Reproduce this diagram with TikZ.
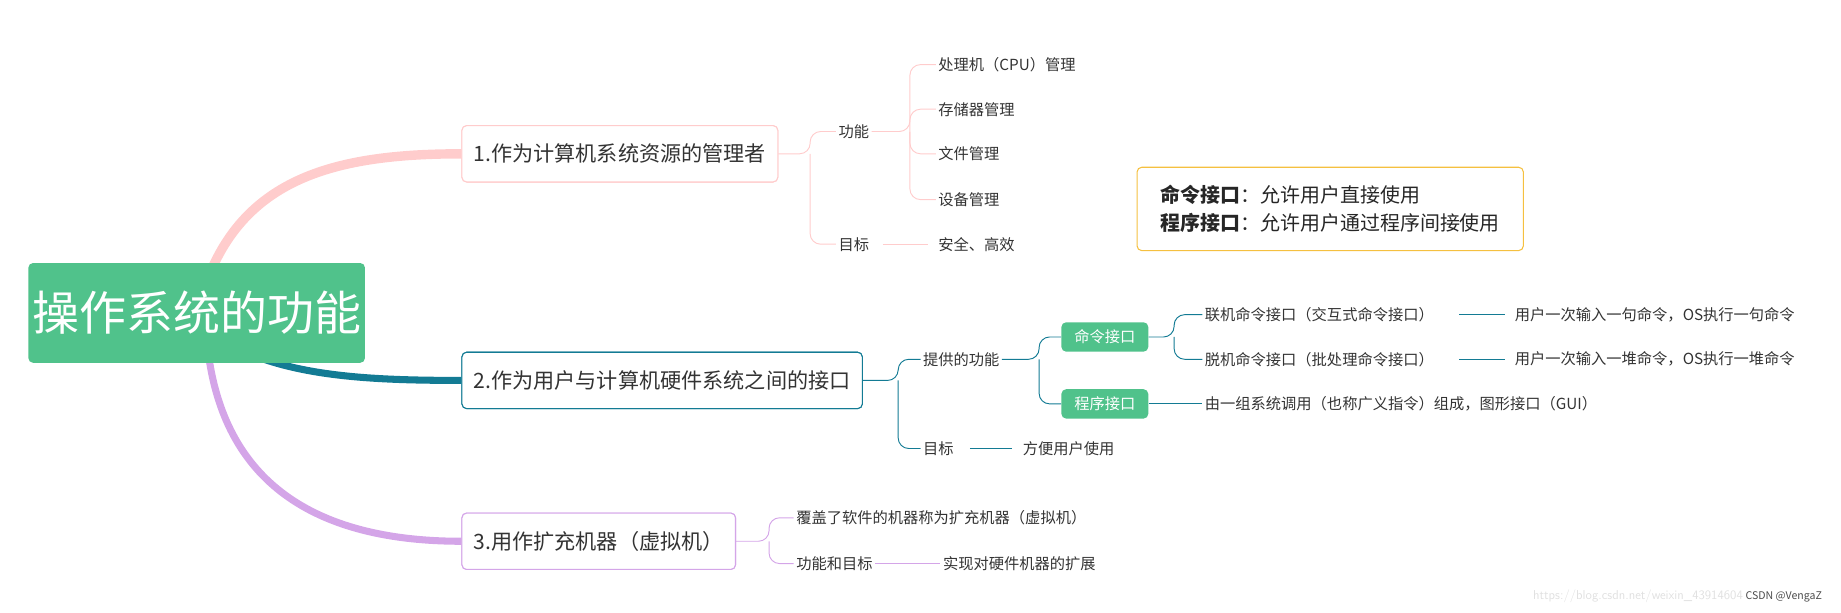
\documentclass[tikz,border=0pt]{standalone}
\usepackage{fontspec}
\setmainfont{Noto Sans CJK SC}
\begin{document}
\begin{tikzpicture}[x=1pt,y=-1pt,
  tx/.style={anchor=west,inner sep=2pt,text=black!80,font=\fontsize{13}{15}\selectfont},
  mainbox/.style={draw,rounded corners=4pt,line width=0.9pt,minimum height=48pt,inner xsep=10pt,font=\fontsize{18}{20}\selectfont,text=black!80,fill=white},
  gbox/.style={fill=gr,rounded corners=4pt,text=white,minimum width=74pt,minimum height=25pt,inner sep=2pt,font=\fontsize{13}{15}\selectfont},
  br/.style={rounded corners=9pt,line width=0.8pt}]
\definecolor{gr}{HTML}{50C28B}
\definecolor{pk}{HTML}{FFCCCC}
\definecolor{tl}{HTML}{137B94}
\definecolor{lc}{HTML}{D4A5E8}
\definecolor{og}{HTML}{F5C040}
\useasboundingbox (0,0) rectangle (1568,522);
% main branches
\coordinate (r1) at (180,230);
\coordinate (r2) at (222,305);
\coordinate (r3) at (178,305);
\node[mainbox,draw=pk,anchor=west] (n1) at (393,131) {1.作为计算机系统资源的管理者};
\node[mainbox,draw=tl,anchor=west] (n2) at (393,324) {2.作为用户与计算机硬件系统之间的接口};
\node[mainbox,draw=lc,anchor=west] (n3) at (393,461) {3.用作扩充机器（虚拟机）};
\draw[pk,line width=8pt] (r1) .. controls (215,150) and (290,131) .. (n1.west);
\draw[tl,line width=6pt] (r2) .. controls (270,322) and (330,324) .. (n2.west);
\draw[lc,line width=6pt] (r3) .. controls (195,420) and (280,461) .. (n3.west);
\node[fill=gr,rounded corners=4pt,text=white,minimum width=279pt,minimum height=85pt,font=\fontsize{40}{42}\selectfont] (root) at (167.5,266.5) {操作系统的功能};
\node[mainbox,draw=pk,anchor=west] at (393,131) {1.作为计算机系统资源的管理者};
\node[mainbox,draw=tl,anchor=west] at (393,324) {2.作为用户与计算机硬件系统之间的接口};
\node[mainbox,draw=lc,anchor=west] at (393,461) {3.用作扩充机器（虚拟机）};
% branch 1
\node[tx] (f1) at (712,112) {功能};
\node[tx] (g1) at (712,208) {目标};
\draw[br,pk] (n1.east) -- (690,131) -- (690,112) -- (f1.west);
\draw[br,pk] (690,131) -- (690,208) -- (g1.west);
\node[tx] (c1) at (797,55) {处理机（CPU）管理};
\node[tx] (c2) at (797,93) {存储器管理};
\node[tx] (c3) at (797,131) {文件管理};
\node[tx] (c4) at (797,170) {设备管理};
\draw[br,pk] (f1.east) -- (775,112) -- (775,55) -- (c1.west);
\draw[br,pk] (775,112) -- (775,93) -- (c2.west);
\draw[br,pk] (775,112) -- (775,131) -- (c3.west);
\draw[br,pk] (775,112) -- (775,170) -- (c4.west);
\node[tx] (s1) at (797,208) {安全、高效};
\draw[pk,line width=0.8pt] (752,208) -- (790,208);
% callout
\node[draw=og,line width=0.9pt,rounded corners=4pt,anchor=north west,minimum width=329pt,minimum height=71pt,align=left,inner xsep=10pt,text=black!85,font=\fontsize{17}{24}\selectfont] (call) at (968,142) {\textbf{命令接口}：允许用户直接使用\\\textbf{程序接口}：允许用户通过程序间接使用};
% branch 2
\node[tx] (p2) at (784,306) {提供的功能};
\node[tx] (g2) at (784,382) {目标};
\draw[br,tl] (n2.east) -- (765,324) -- (765,306) -- (p2.west);
\draw[br,tl] (765,324) -- (765,382) -- (g2.west);
\node[gbox] (cmd) at (941,287) {命令接口};
\node[gbox] (prg) at (941,344) {程序接口};
\draw[br,tl] (p2.east) -- (885,306) -- (885,287) -- (cmd.west);
\draw[br,tl] (885,306) -- (885,344) -- (prg.west);
\node[tx] (l1) at (1024,268) {联机命令接口（交互式命令接口）};
\node[tx] (l2) at (1024,306) {脱机命令接口（批处理命令接口）};
\draw[br,tl] (cmd.east) -- (1000,287) -- (1000,268) -- (l1.west);
\draw[br,tl] (1000,287) -- (1000,306) -- (l2.west);
\node[tx] (d1) at (1288,268) {用户一次输入一句命令，OS执行一句命令};
\node[tx] (d2) at (1288,306) {用户一次输入一堆命令，OS执行一堆命令};
\draw[tl,line width=0.8pt] (1243,268) -- (1282,268);
\draw[tl,line width=0.8pt] (1243,306) -- (1282,306);
\node[tx] (l3) at (1024,344) {由一组系统调用（也称广义指令）组成，图形接口（GUI）};
\draw[tl,line width=0.8pt] (prg.east) -- (l3.west);
\node[tx] (e2) at (869,382) {方便用户使用};
\draw[tl,line width=0.8pt] (826,382) -- (862,382);
% branch 3
\node[tx] (v1) at (676,441) {覆盖了软件的机器称为扩充机器（虚拟机）};
\node[tx] (v2) at (676,480) {功能和目标};
\draw[br,lc] (n3.east) -- (655,461) -- (655,441) -- (v1.west);
\draw[br,lc] (655,461) -- (655,480) -- (v2.west);
\node[tx] (v3) at (801,480) {实现对硬件机器的扩展};
\draw[lc,line width=0.8pt] (v2.east) -- (v3.west);
% watermark
\node[anchor=east,text=black!70,inner sep=1pt,font=\fontsize{9}{10}\selectfont] (wm) at (1553,508) {CSDN @VengaZ};
\node[anchor=east,text=black!12,inner sep=1pt,font=\fontsize{11}{12}\selectfont\sffamily] (url) at (wm.west) {https://blog.csdn.net/weixin\_43914604};
\end{tikzpicture}
\end{document}
